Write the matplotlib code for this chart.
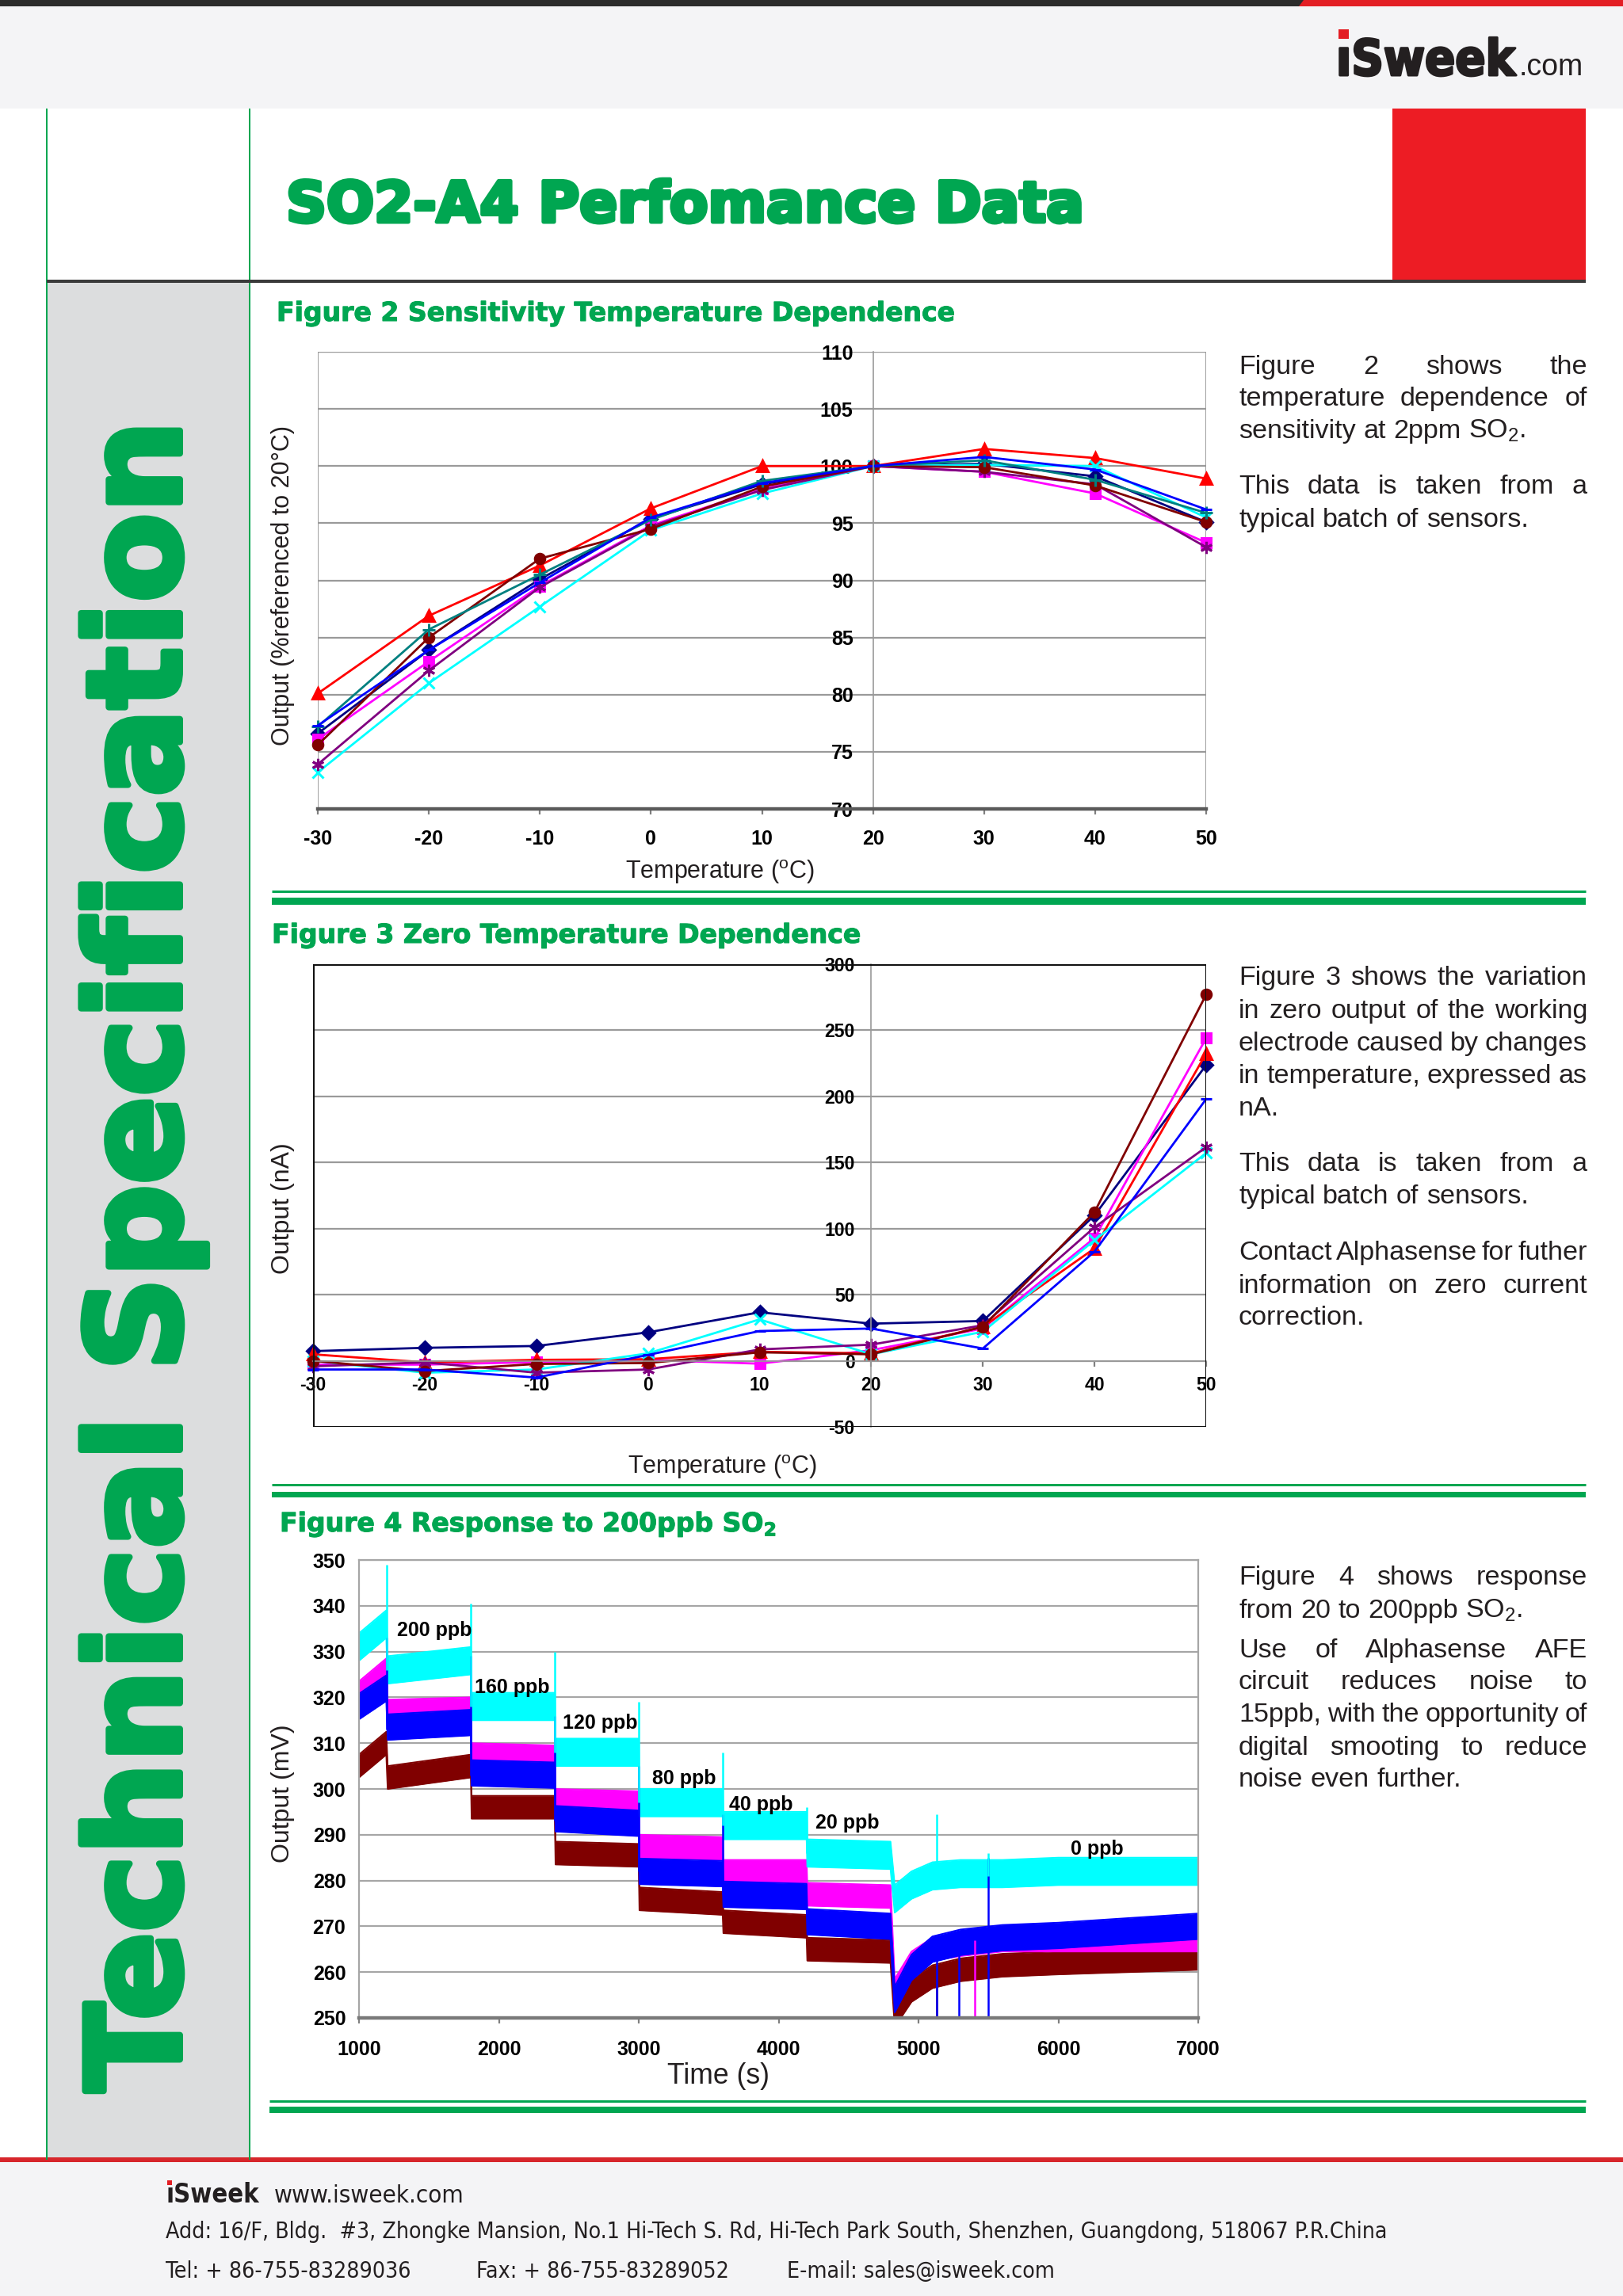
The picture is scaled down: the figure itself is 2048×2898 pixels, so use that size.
"""SO2-A4 performance data sheet page, redrawn with matplotlib."""
import matplotlib
matplotlib.use("Agg")
import matplotlib.pyplot as plt
import matplotlib.patheffects as pe
from matplotlib.patches import Rectangle, Polygon

W, H, DPI = 2048, 2898, 200
GREEN = "#00A651"
RED = "#ED1C24"
INK = "#231F20"
BODY = ["Liberation Sans", "DejaVu Sans"]
NARROW = ["Liberation Sans Narrow", "Liberation Sans", "DejaVu Sans"]
HEAVY = ["DejaVu Sans"]

plt.rcParams["mathtext.default"] = "regular"
plt.rcParams["axes.unicode_minus"] = False

# ---- Figure 2: sensitivity vs temperature (% of 20 C value)
temps = [-30, -20, -10, 0, 10, 20, 30, 40, 50]
sens_ticks = [70, 75, 80, 85, 90, 95, 100, 105, 110]
sens_navy = [76.6, 83.9, 90.1, 95.4, 98.4, 100.0, 100.2, 99.1, 95.1]
sens_magenta = [76.1, 82.9, 89.5, 94.8, 98.0, 100.0, 99.5, 97.6, 93.3]
sens_red = [80.1, 86.9, 91.3, 96.3, 100.0, 100.0, 101.5, 100.7, 98.9]
sens_cyan = [73.2, 81.0, 87.7, 94.4, 97.6, 100.0, 100.1, 100.0, 95.5]
sens_purple = [73.9, 82.1, 89.4, 94.7, 97.9, 100.0, 99.5, 98.4, 92.9]
sens_brown = [75.6, 85.0, 91.9, 94.5, 98.2, 100.0, 99.9, 98.3, 95.1]
sens_teal = [77.2, 85.7, 90.5, 95.3, 98.7, 100.0, 100.5, 98.8, 95.9]
sens_blue = [77.3, 83.9, 89.8, 95.5, 98.5, 100.0, 100.8, 99.7, 96.2]

# ---- Figure 3: zero current vs temperature (nA)
zero_ticks = [-50, 0, 50, 100, 150, 200, 250, 300]
zero_navy = [7.3, 9.8, 11.2, 21.5, 36.7, 28.1, 30.1, 110.0, 223.7]
zero_magenta = [-2.9, -2.9, -1.0, 0.7, -2.2, 8.0, 24.4, 92.9, 244.0]
zero_red = [4.9, -1.2, 0.7, 1.2, 6.8, 5.6, 25.7, 85.0, 232.5]
zero_cyan = [0.0, -9.0, -6.6, 5.6, 31.3, 4.9, 22.0, 91.2, 157.2]
zero_purple = [-4.2, -1.2, -9.0, -6.6, 8.6, 12.2, 26.9, 101.0, 161.6]
zero_brown = [0.0, -7.8, -2.4, -1.7, 6.4, 4.9, 25.7, 112.5, 277.0]
zero_blue = [-6.6, -6.6, -12.7, 4.4, 22.5, 24.4, 9.3, 82.6, 198.0]

# ---- Figure 4: response to SO2 steps (mV), centre of each noisy trace
resp_t = [1000, 1195, 1205, 1800, 1805, 2400, 2405, 3000, 3005, 3600, 3605,
          4200, 4205, 4800, 4830, 4950, 5100, 5300, 5600, 6000, 6500, 7000]
resp_cyan = [331, 336, 326, 328, 318, 318, 308, 308, 297, 297, 292,
             292, 286, 285.5, 276, 279, 281, 281.5, 281.5, 282, 282, 282]
resp_magenta = [321, 326, 317, 317.5, 307.5, 307, 297.5, 297, 287.5, 287, 282,
                282, 277, 276.5, 256, 262, 265, 266, 267, 267, 267, 267]
resp_blue = [318, 322, 313.5, 314.5, 303.5, 303, 293.5, 292.5, 282, 281.5, 277,
             276.5, 271, 270, 254, 261, 265, 266.5, 267.5, 268, 269, 270]
resp_brown = [305, 310, 302.5, 305, 296, 296, 286, 285.5, 276, 275, 271,
              270, 265, 264.5, 250.5, 256, 259, 260.5, 261.5, 262, 262.5, 263]
noise_half = {"cyan": 3.0, "magenta": 2.5, "blue": 2.8, "brown": 2.5}
resp_ticks_x = [1000, 2000, 3000, 4000, 5000, 6000, 7000]
resp_ticks_y = [250, 260, 270, 280, 290, 300, 310, 320, 330, 340, 350]

spike_cyan_t = [1200, 1800, 2400, 3000, 3600, 4200, 5130, 5500]
spike_cyan_lo = [326, 318, 308, 297, 292, 286, 281, 281]
spike_cyan_hi = [349, 340.5, 330, 319, 308, 296, 294.5, 286]
spike_blue_t = [1200, 1800, 2400, 3000, 3600, 5130, 5290, 5500]
spike_blue_lo = [313, 303, 293, 282, 277, 250, 250, 250]
spike_blue_hi = [333, 329, 316, 305, 294.5, 266, 266, 285]
spike_magenta_t = [5400]
spike_magenta_lo = [250]
spike_magenta_hi = [267]
spike_brown_t = [5130]
spike_brown_lo = [250]
spike_brown_hi = [260]

ppb_labels = ["200 ppb", "160 ppb", "120 ppb", "80 ppb", "40 ppb", "20 ppb", "0 ppb"]
ppb_x = [1541, 2096, 2724, 3322, 3873, 4492, 6277]
ppb_y = [334.6, 322.2, 314.4, 302.3, 296.6, 292.5, 286.8]

# marker styles, Excel-like defaults
STY = {
    "navy": ("#000080", "D", 4.0),
    "magenta": ("#FF00FF", "s", 4.5),
    "red": ("#FF0000", "^", 5.0),
    "cyan": ("#00FFFF", "x", 5.0),
    "purple": ("#800080", (6, 2, 0), 5.5),
    "brown": ("#800000", "o", 4.5),
    "teal": ("#008080", "+", 6.0),
    "blue": ("#0000FF", "_", 5.0),
}

fig = plt.figure(figsize=(W / DPI, H / DPI), dpi=DPI)
page = fig.add_axes([0, 0, 1, 1])
page.set_xlim(0, W)
page.set_ylim(H, 0)
page.axis("off")
renderer = fig.canvas.get_renderer()


def px(v):
    return v * 72 / DPI


def box(x0, y0, x1, y1, color):
    page.add_patch(Rectangle((x0, y0), x1 - x0, y1 - y0, facecolor=color, edgecolor="none"))


def hline(y, x0, x1, color, lw):
    page.plot([x0, x1], [y, y], color=color, lw=px(lw), solid_capstyle="butt")


def vline(x, y0, y1, color, lw):
    page.plot([x, x], [y0, y1], color=color, lw=px(lw), solid_capstyle="butt")


def width_of(s, size, family, weight="normal", stretch="normal"):
    t = page.text(0, 0, s, fontsize=size, family=family, weight=weight, stretch=stretch)
    w = t.get_window_extent(renderer).width
    t.remove()
    return w


def fit_size(s, target, family, weight="normal", stretch="normal"):
    return 20 * target / width_of(s, 20, family, weight, stretch)


def heavy(lw_px, color=GREEN):
    return [pe.withStroke(linewidth=px(lw_px), foreground=color, capstyle="round")]


BODY_SIZE = 12.3


def paragraph(lines, x0, x1, baselines, size=BODY_SIZE):
    space = 0.278 * size * DPI / 72
    for i, (line, yb) in enumerate(zip(lines, baselines)):
        words = line.split(" ")
        widths = [width_of(w, size, BODY) for w in words]
        if i == len(lines) - 1 or len(words) == 1:
            gap = space
        else:
            gap = max((x1 - x0 - sum(widths)) / (len(words) - 1), 0.3 * space)
        x = x0
        for w, wd in zip(words, widths):
            page.text(x, yb, w, fontsize=size, family=BODY, color=INK, va="baseline")
            x += wd + gap


def px_axes(x0, y0, x1, y1):
    return fig.add_axes([x0 / W, 1 - y1 / H, (x1 - x0) / W, (y1 - y0) / H])


def bold_ticks(ax, size):
    for lbl in ax.get_xticklabels() + ax.get_yticklabels():
        lbl.set_fontfamily(NARROW)
        lbl.set_fontweight("bold")
        lbl.set_fontsize(size)


# ---- page furniture
box(0, 0, W, 8, "#2B2B2B")
page.add_patch(Polygon([[1645, 0], [W, 0], [W, 8], [1639, 8]], closed=True,
                       facecolor="#E31E24", edgecolor="none"))
box(0, 8, W, 137, "#F4F4F6")
box(1757, 137, 2001, 355, RED)
box(59, 357, 315, 2726, "#DCDDDE")
vline(59, 137, 2726, GREEN, 2)
vline(315, 137, 2726, GREEN, 2)
hline(355, 59, 2001, "#3A3A3A", 4)
for thin, t0, t1, x0 in [(1125, 1133, 1142, 343), (1874, 1883, 1890, 343), (2652, 2659, 2667, 340)]:
    hline(thin, x0, 2001, GREEN, 3)
    box(x0, t0, 2001, t1, GREEN)
box(0, 2729, W, H, "#F4F4F6")
box(0, 2723, W, 2729, "#D7262B")

# logo
logo_size = fit_size("ıSweek", 226, HEAVY, "bold", "condensed")
page.text(1686, 95, "ıSweek", fontsize=logo_size, family=HEAVY, weight="bold",
          stretch="condensed", color=INK, va="baseline", path_effects=heavy(3, INK))
wi = width_of("ı", logo_size, HEAVY, "bold", "condensed")
box(1686 + wi * 0.18, 37, 1686 + wi * 0.82, 49, "#E31E24")
page.text(1686 + width_of("ıSweek", logo_size, HEAVY, "bold", "condensed") + 5, 95, ".com",
          fontsize=13.5, family=BODY, color=INK, va="baseline")

# main title and side banner
title = "SO2-A4 Perfomance Data"
page.text(361, 280, title, fontsize=fit_size(title, 1006, HEAVY, "bold"),
          family=HEAVY, weight="bold", color=GREEN, va="baseline", path_effects=heavy(5))
side = "Technical Specification"
page.text(227, 2640, side, fontsize=fit_size(side, 2106, HEAVY, "bold"), family=HEAVY,
          weight="bold", color=GREEN, rotation=90, rotation_mode="anchor",
          ha="left", va="baseline", path_effects=heavy(8))

# figure headings
head_size = fit_size("Figure 2 Sensitivity Temperature Dependence", 855, HEAVY, "bold")
for txt, x, yb in [("Figure 2 Sensitivity Temperature Dependence", 349, 405),
                   ("Figure 3 Zero Temperature Dependence", 343, 1190),
                   ("Figure 4 Response to 200ppb SO$_2$", 353, 1933)]:
    page.text(x, yb, txt, fontsize=head_size, family=HEAVY, weight="bold",
              color=GREEN, va="baseline", path_effects=heavy(1.1))

# right-hand notes
paragraph(["Figure 2 shows the", "temperature dependence of", "sensitivity at 2ppm SO$_2$."],
          1563, 2003, [472, 512, 553])
paragraph(["This data is taken from a", "typical batch of sensors."], 1563, 2003, [623, 665])
paragraph(["Figure 3 shows the variation", "in zero output of the working",
           "electrode caused by changes", "in temperature, expressed as", "nA."],
          1563, 2003, [1243, 1285, 1326, 1367, 1408])
paragraph(["This data is taken from a", "typical batch of sensors."], 1563, 2003, [1478, 1519])
paragraph(["Contact Alphasense for futher", "information on zero current", "correction."],
          1563, 2003, [1590, 1632, 1672])
paragraph(["Figure 4 shows response", "from 20 to 200ppb SO$_2$."], 1563, 2003, [2000, 2042])
paragraph(["Use of Alphasense AFE", "circuit reduces noise to",
           "15ppb, with the opportunity of", "digital smooting to reduce", "noise even further."],
          1563, 2003, [2092, 2132, 2173, 2215, 2255])

# axis titles
lab = dict(family=BODY, color=INK, ha="center", va="center")
page.text(908, 1101, "Temperature ($^o$C)", fontsize=11, **lab)
page.text(357, 739, "Output (%referenced to 20°C)", rotation=90, fontsize=11, **lab)
page.text(911, 1852, "Temperature ($^o$C)", fontsize=11, **lab)
page.text(357, 1525, "Output (nA)", rotation=90, fontsize=11.5, **lab)
page.text(357, 2264, "Output (mV)", rotation=90, fontsize=11.5, **lab)
page.text(906, 2620, "Time (s)", fontsize=12.8, **lab)

# footer
FOOT = ["DejaVu Sans"]
foot = "Add: 16/F, Bldg.  #3, Zhongke Mansion, No.1 Hi-Tech S. Rd, Hi-Tech Park South, Shenzhen, Guangdong, 518067 P.R.China"
foot_size = fit_size(foot, 1541, FOOT, stretch="condensed")
fkw = dict(family=FOOT, stretch="condensed", color=INK, va="baseline")
page.text(209, 2825, foot, fontsize=foot_size, **fkw)
page.text(209, 2875, "Tel: + 86-755-83289036", fontsize=foot_size, **fkw)
page.text(601, 2875, "Fax: + 86-755-83289052", fontsize=foot_size, **fkw)
page.text(993, 2875, "E-mail: sales@isweek.com", fontsize=foot_size, **fkw)
page.text(209, 2780, "ıSweek", fontsize=foot_size * 1.15, weight="bold", **fkw)
fw = width_of("ı", foot_size * 1.15, FOOT, "bold", "condensed")
box(209 + fw * 0.2, 2752, 209 + fw * 0.8, 2758, "#E31E24")
page.text(346, 2780, "www.isweek.com", fontsize=foot_size * 1.1, **fkw)

# ---- Figure 2 chart
ax2 = px_axes(401, 444, 1522, 1021)
series2 = [("navy", sens_navy), ("magenta", sens_magenta), ("red", sens_red), ("cyan", sens_cyan),
           ("purple", sens_purple), ("brown", sens_brown), ("teal", sens_teal), ("blue", sens_blue)]
for name, vals in series2:
    c, m, ms = STY[name]
    ax2.plot(temps, vals, color=c, marker=m, ms=ms, mec=c, mfc=c, mew=1.1, lw=1.0, clip_on=False)
ax2.set_xlim(-30, 50)
ax2.set_ylim(70, 110)
ax2.set_xticks(temps)
ax2.set_yticks(sens_ticks)
ax2.yaxis.grid(True, color="#9A9A9A", lw=0.8)
ax2.set_axisbelow(True)
ax2.spines["left"].set_position(("data", 20))
ax2.spines["left"].set_color("#9A9A9A")
ax2.spines["left"].set_linewidth(0.6)
ax2.spines["top"].set_visible(False)
ax2.spines["right"].set_visible(False)
ax2.spines["bottom"].set_color("#5A5A5A")
ax2.spines["bottom"].set_linewidth(1.6)
ax2.add_patch(Rectangle((0, 0), 1, 1, transform=ax2.transAxes, fill=False,
                        edgecolor="#A6A6A6", lw=0.8, zorder=0.5))
ax2.tick_params(axis="x", length=2.5, color="#808080", pad=7)
ax2.tick_params(axis="y", length=0, pad=9)
bold_ticks(ax2, 9)

# ---- Figure 3 chart
ax3 = px_axes(395, 1217, 1522, 1801)
series3 = [("navy", zero_navy), ("magenta", zero_magenta), ("red", zero_red), ("cyan", zero_cyan),
           ("purple", zero_purple), ("brown", zero_brown), ("blue", zero_blue)]
for name, vals in series3:
    c, m, ms = STY[name]
    ax3.plot(temps, vals, color=c, marker=m, ms=ms, mec=c, mfc=c, mew=1.1, lw=1.0, clip_on=False)
ax3.set_xlim(-30, 50)
ax3.set_ylim(-50, 300)
ax3.set_xticks(temps)
ax3.set_yticks(zero_ticks)
ax3.yaxis.grid(True, color="#9A9A9A", lw=0.8)
ax3.set_axisbelow(True)
ax3.spines["left"].set_position(("data", 20))
ax3.spines["bottom"].set_position(("data", 0))
for s in ("left", "bottom"):
    ax3.spines[s].set_color("#9A9A9A")
    ax3.spines[s].set_linewidth(0.6)
ax3.spines["top"].set_visible(False)
ax3.spines["right"].set_visible(False)
ax3.add_patch(Rectangle((0, 0), 1, 1, transform=ax3.transAxes, fill=False,
                        edgecolor="#111111", lw=1.1, zorder=3))
ax3.tick_params(axis="x", length=2.5, color="#808080", pad=4.5)
ax3.tick_params(axis="y", length=0, pad=7.5)
bold_ticks(ax3, 8.3)

# ---- Figure 4 chart
ax4 = px_axes(453, 1969, 1512, 2547)
for key, vals, c in [("brown", resp_brown, "#800000"), ("magenta", resp_magenta, "#FF00FF"),
                     ("blue", resp_blue, "#0000FF"), ("cyan", resp_cyan, "#00FFFF")]:
    hw = noise_half[key]
    lo = [v - hw for v in vals]
    hi = [v + hw for v in vals]
    ax4.fill_between(resp_t, lo, hi, color=c, lw=0, zorder=2)
    ax4.plot(resp_t, lo, color=c, lw=0.7, zorder=2)
    ax4.plot(resp_t, hi, color=c, lw=0.7, zorder=2)
ax4.vlines(spike_brown_t, spike_brown_lo, spike_brown_hi, colors="#800000", lw=0.9, zorder=2)
ax4.vlines(spike_magenta_t, spike_magenta_lo, spike_magenta_hi, colors="#FF00FF", lw=0.9, zorder=2)
ax4.vlines(spike_blue_t, spike_blue_lo, spike_blue_hi, colors="#0000FF", lw=0.9, zorder=2)
ax4.vlines(spike_cyan_t, spike_cyan_lo, spike_cyan_hi, colors="#00FFFF", lw=0.9, zorder=2)
for txt, x, y in zip(ppb_labels, ppb_x, ppb_y):
    ax4.text(x, y, txt, ha="center", va="center", fontsize=9, family=NARROW,
             weight="bold", color="black", zorder=4)
ax4.set_xlim(1000, 7000)
ax4.set_ylim(250, 350)
ax4.set_xticks(resp_ticks_x)
ax4.set_yticks(resp_ticks_y)
ax4.yaxis.grid(True, color="#A6A6A6", lw=0.8)
ax4.set_axisbelow(True)
for s in ("left", "top", "right"):
    ax4.spines[s].set_color("#A6A6A6")
    ax4.spines[s].set_linewidth(0.8)
ax4.spines["bottom"].set_color("#7A7A7A")
ax4.spines["bottom"].set_linewidth(1.6)
ax4.tick_params(axis="x", length=2.5, color="#808080", pad=7.5)
ax4.tick_params(axis="y", length=0, pad=6)
bold_ticks(ax4, 9)

fig.savefig("out.png", dpi=DPI)
